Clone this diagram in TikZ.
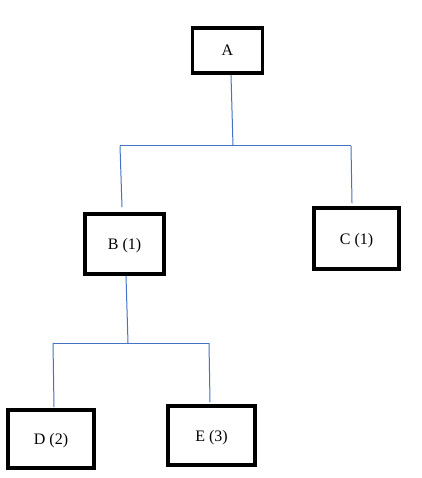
\documentclass[tikz,border=0pt]{standalone}
\usepackage{fontspec}
\setmainfont{Liberation Serif}
\usepackage{tikz}
\usetikzlibrary{calc}
\definecolor{linkblue}{RGB}{68,114,196}
\tikzset{
	treebox/.style={draw=black,line width=3.8pt,inner sep=0pt,text depth=0pt,font=\fontsize{16}{19}\selectfont},
	branch/.style={draw=linkblue,line width=1pt},
}
\begin{document}
\begin{tikzpicture}[x=1pt,y=-1pt]
		\useasboundingbox (0,0) rectangle (421,478);
		\node[treebox,minimum width=70pt,minimum height=45pt] (A) at (227.5,50.5) {A};
		\node[treebox,minimum width=79pt,minimum height=60pt] (B) at (124.5,244) {B (1)};
		\node[treebox,minimum width=85pt,minimum height=61pt] (C) at (356.5,238.5) {C (1)};
		\node[treebox,minimum width=86pt,minimum height=58pt] (D) at (51,439) {D (2)};
		\node[treebox,minimum width=87pt,minimum height=59pt] (E) at (211.5,435.5) {E (3)};
		\coordinate (ab) at (233,146);
		\coordinate (al) at (120,146);
		\coordinate (ar) at (351,146);
		\coordinate (bb) at (128,343);
		\coordinate (bl) at (53,343);
		\coordinate (br) at (209,343);
		\draw[branch] ([xshift=3.5pt]A.south) -- (ab);
		\draw[branch] (al) -- (ar);
		\draw[branch] (al) -- ([xshift=-2.5pt,yshift=5pt]B.north);
		\draw[branch] (ar) -- ([xshift=-4.5pt,yshift=3pt]C.north);
		\draw[branch] ([xshift=1.5pt]B.south) -- (bb);
		\draw[branch] (bl) -- (br);
		\draw[branch] (bl) -- ([xshift=3pt,yshift=1pt]D.north);
		\draw[branch] (br) -- ([xshift=-1.5pt,yshift=2pt]E.north);
	\end{tikzpicture}
\end{document}
